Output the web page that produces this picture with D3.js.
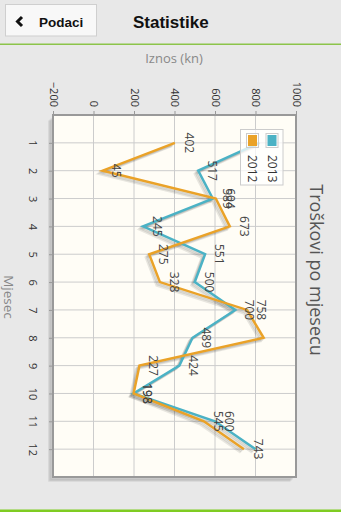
<!DOCTYPE html>
<html>
<head>
<meta charset="utf-8">
<script src="https://cdn.jsdelivr.net/npm/d3@7"></script>
<style>
  html, body { margin: 0; padding: 0; background: #e8e8e8; }
  svg { display: block; }
</style>
</head>
<body>
<svg id="app" width="341" height="512"></svg>
<script>
// Monthly expenses, two years
const months = ["1","2","3","4","5","6","7","8","9","10","11","12"];
const valueTicks = [-200, 0, 200, 400, 600, 800, 1000];
const values2013 = [820, 517, 589, 245, 551, 500, 700, 489, 424, 198, 600, 800];
const values2012 = [402, 45, 604, 673, 275, 328, 758, 840, 227, 198, 545, 743];
const seriesNames = ["2013", "2012"];
const seriesColors = ["#4bb2c5", "#eaa228"];

const svg = d3.select("#app");
const chartFont = "'Open Sans', 'Noto Sans', sans-serif";
const uiFont = "'Liberation Sans', Arial, sans-serif";

// ---- top bar ----
svg.append("rect").attr("x", 0).attr("y", 0).attr("width", 341).attr("height", 512).attr("fill", "#e8e8e8");
svg.append("rect").attr("x", 5.5).attr("y", 4.5).attr("width", 91).attr("height", 31.5)
  .attr("fill", "#f8f8f8").attr("stroke", "#cfcfcf");
svg.append("path").attr("d", "M22,17 L17.5,21.5 L22,26").attr("fill", "none")
  .attr("stroke", "#111").attr("stroke-width", 3).attr("stroke-linejoin", "miter");
svg.append("text").attr("x", 39).attr("y", 27).text("Podaci")
  .style("font", "bold 13.5px " + uiFont).attr("fill", "#111");
svg.append("text").attr("x", 133).attr("y", 28).text("Statistike")
  .style("font", "bold 17px " + uiFont).attr("fill", "#111");
svg.append("rect").attr("x", 0).attr("y", 43.5).attr("width", 341).attr("height", 1.5).attr("fill", "#8cc44a");
svg.append("rect").attr("x", 0).attr("y", 509.5).attr("width", 341).attr("height", 2.5).attr("fill", "#7fcc22");

// ---- chart (value axis runs left→right, months run top→bottom) ----
const plot = { left: 53, right: 296, top: 115, bottom: 477 };

const x = d3.scaleLinear().domain([-200, 1000]).range([plot.left, plot.right]);
const y = d3.scalePoint().domain(months).range([plot.top, plot.bottom]).padding(1);

const g = svg.append("g");

// frame shadow (left and bottom edges)
for (let k = 1; k <= 3; k++) {
  g.append("path")
    .attr("d", `M${plot.left},${plot.top + 2} L${plot.left},${plot.bottom} L${plot.right - 2},${plot.bottom}`)
    .attr("transform", `translate(${-1.2 * k},${1.2 * k})`)
    .attr("fill", "none").attr("stroke", "rgba(0,0,0,0.08)").attr("stroke-width", 2.5);
}

// plot background
g.append("rect").attr("x", plot.left).attr("y", plot.top)
  .attr("width", plot.right - plot.left).attr("height", plot.bottom - plot.top)
  .attr("fill", "#fffdf6");

// grid lines
g.append("g").selectAll("line").data(valueTicks).join("line")
  .attr("x1", d => x(d)).attr("x2", d => x(d))
  .attr("y1", plot.top).attr("y2", plot.bottom)
  .attr("stroke", "#cccccc").attr("stroke-width", 1);
g.append("g").selectAll("line").data(months).join("line")
  .attr("x1", plot.left).attr("x2", plot.right)
  .attr("y1", d => y(d)).attr("y2", d => y(d))
  .attr("stroke", "#cccccc").attr("stroke-width", 1);

// value axis along the top edge
const valueAxis = g.append("g")
  .attr("transform", `translate(0,${plot.top})`)
  .call(d3.axisTop(x).tickValues(valueTicks).tickSize(4).tickPadding(4).tickFormat(d3.format("d")));
valueAxis.select(".domain").remove();
valueAxis.selectAll(".tick line").attr("stroke", "#999");
valueAxis.selectAll(".tick text")
  .attr("transform", "rotate(90)")
  .attr("x", -8).attr("y", 0).attr("dy", "0.35em")
  .attr("text-anchor", "end")
  .style("font", "11px " + chartFont).attr("fill", "#333");

// month axis along the left edge
const monthAxis = g.append("g")
  .attr("transform", `translate(${plot.left},0)`)
  .call(d3.axisLeft(y).tickSize(4).tickPadding(4));
monthAxis.select(".domain").remove();
monthAxis.selectAll(".tick line").attr("stroke", "#999");
monthAxis.selectAll(".tick text")
  .attr("transform", "rotate(90)")
  .attr("x", 0).attr("y", 20).attr("dy", "0.35em")
  .attr("text-anchor", "middle")
  .style("font", "11px " + chartFont).attr("fill", "#333");

// frame
g.append("rect").attr("x", plot.left).attr("y", plot.top)
  .attr("width", plot.right - plot.left).attr("height", plot.bottom - plot.top)
  .attr("fill", "none").attr("stroke", "#999999").attr("stroke-width", 2);

// series
const series = [
  { name: seriesNames[0], color: seriesColors[0], values: values2013 },
  { name: seriesNames[1], color: seriesColors[1], values: values2012 }
];
const line = d3.line().x(d => x(d.v)).y(d => y(d.m));

series.forEach(s => {
  const pts = s.values.map((v, i) => ({ m: months[i], v }));
  for (let k = 1; k <= 3; k++) {
    g.append("path").datum(pts).attr("d", line)
      .attr("transform", `translate(${-1.1 * k},${1.1 * k})`)
      .attr("fill", "none").attr("stroke", "rgba(0,0,0,0.09)").attr("stroke-width", 2.5)
      .attr("stroke-linejoin", "miter");
  }
});
series.forEach(s => {
  const pts = s.values.map((v, i) => ({ m: months[i], v }));
  g.append("path").datum(pts).attr("d", line)
    .attr("fill", "none").attr("stroke", s.color).attr("stroke-width", 2.5)
    .attr("stroke-linejoin", "miter");
});

// point labels; labels that would crowd the plot's far edge are left out
const LABEL_OFFSET = 14;
const LABEL_EDGE_GAP = 24;
series.forEach(s => {
  s.values.forEach((v, i) => {
    const lx = x(v) + LABEL_OFFSET;
    if (lx + 6 > plot.right - LABEL_EDGE_GAP) return;
    g.append("text")
      .attr("transform", `translate(${lx},${y(months[i])}) rotate(90)`)
      .attr("dy", "0.35em").attr("text-anchor", "middle")
      .style("font", "12px " + chartFont).attr("fill", "#444")
      .text(v);
  });
});

// legend
const legend = g.append("g");
legend.append("rect").attr("x", 240.5).attr("y", 129.5).attr("width", 42.5).attr("height", 55.5)
  .attr("fill", "rgba(255,255,255,0.75)").attr("stroke", "#cccccc");
series.forEach((s, i) => {
  const cx = 272 - i * 19.5;
  legend.append("rect").attr("x", cx - 6).attr("y", 133.5).attr("width", 12).attr("height", 14)
    .attr("fill", "none").attr("stroke", "#cccccc");
  legend.append("rect").attr("x", cx - 4.5).attr("y", 135).attr("width", 9).attr("height", 11)
    .attr("fill", s.color);
  legend.append("text")
    .attr("transform", `translate(${cx},155) rotate(90)`)
    .attr("dy", "0.35em").attr("text-anchor", "start")
    .style("font", "12px " + chartFont).attr("fill", "#333")
    .text(s.name);
});

// axis titles and chart title
svg.append("text").attr("x", 174).attr("y", 63).attr("text-anchor", "middle")
  .style("font", "13px " + chartFont).attr("fill", "#888").text("Iznos (kn)");
svg.append("text").attr("transform", "translate(4,297) rotate(90)")
  .attr("text-anchor", "middle")
  .style("font", "13.5px " + chartFont).attr("fill", "#888").text("Mjesec");
svg.append("text").attr("transform", "translate(310,270) rotate(90)")
  .attr("text-anchor", "middle")
  .style("font", "18px " + chartFont).attr("fill", "#555").text("Troškovi po mjesecu");
</script>
</body>
</html>
